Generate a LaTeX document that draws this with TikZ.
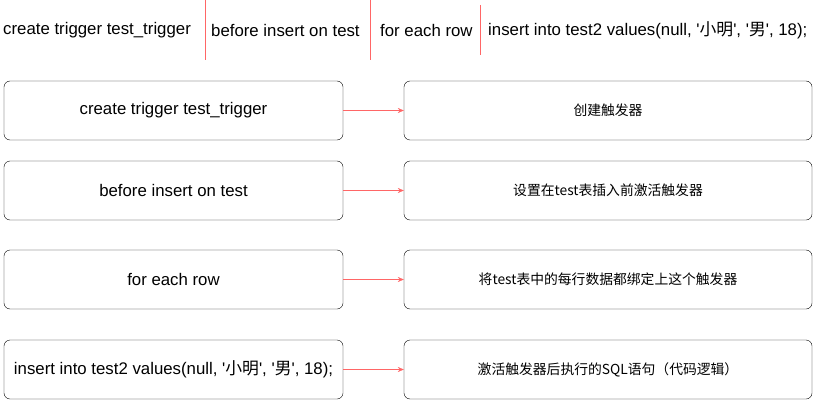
\documentclass[tikz,border=0pt]{standalone}
\usepackage{fontspec}
\setmainfont{Liberation Sans}
\newfontfamily\plainq{Liberation Sans}
\newfontfamily\cjk{Noto Sans CJK SC}
\newcommand\sq{{\plainq '}}
\usetikzlibrary{arrows.meta}
\definecolor{lred}{HTML}{FF6666}
\begin{document}
\begin{tikzpicture}[x=1pt,y=-1pt,
  lbox/.style={draw,rounded corners=6pt,minimum width=339pt,minimum height=59pt,font=\fontsize{16.8}{19}\selectfont,inner sep=0pt},
  rbox/.style={draw,rounded corners=6pt,minimum width=408pt,minimum height=59pt,font=\fontsize{13.8}{16}\selectfont,inner sep=0pt},
  top/.style={anchor=west,inner sep=0pt,font=\fontsize{16.8}{19}\selectfont},
  arr/.style={draw=lred,-{Stealth[length=6pt,width=5pt]}},
  sep/.style={draw=lred}]
\useasboundingbox (0,0) rectangle (818,401);
\node[top] (t1) at (3,30) {create trigger test\_trigger};
\node[top] (t2) at (211,30) {before insert on test};
\node[top] (t3) at (380,30) {for each row};
\node[top] (t4) at (488,30) {insert into test2 values(null, \sq{\cjk 小明}\sq, \sq{\cjk 男}\sq, 18);};
\coordinate (s1a) at (205,0); \coordinate (s1b) at (205,60);
\coordinate (s2a) at (370,0); \coordinate (s2b) at (370,60);
\coordinate (s3a) at (480,5); \coordinate (s3b) at (480,55);
\draw[sep] (s1a)--(s1b); \draw[sep] (s2a)--(s2b); \draw[sep] (s3a)--(s3b);
\node[lbox] (a1) at (173.5,110.5) {create trigger test\_trigger};
\node[lbox] (a2) at (173.5,190.5) {before insert on test};
\node[lbox] (a3) at (173.5,279.5) {for each row};
\node[lbox] (a4) at (173.5,369.5) {insert into test2 values(null, \sq{\cjk 小明}\sq, \sq{\cjk 男}\sq, 18);};
\node[rbox] (b1) at (608,110.5) {\cjk 创建触发器};
\node[rbox] (b2) at (608,190.5) {\cjk 设置在test表插入前激活触发器};
\node[rbox] (b3) at (608,279.5) {\cjk 将test表中的每行数据都绑定上这个触发器};
\node[rbox] (b4) at (608,369.5) {\cjk 激活触发器后执行的SQL语句（代码逻辑）};
\foreach \i in {1,2,3,4} \draw[arr] (a\i) -- (b\i);
\end{tikzpicture}
\end{document}
